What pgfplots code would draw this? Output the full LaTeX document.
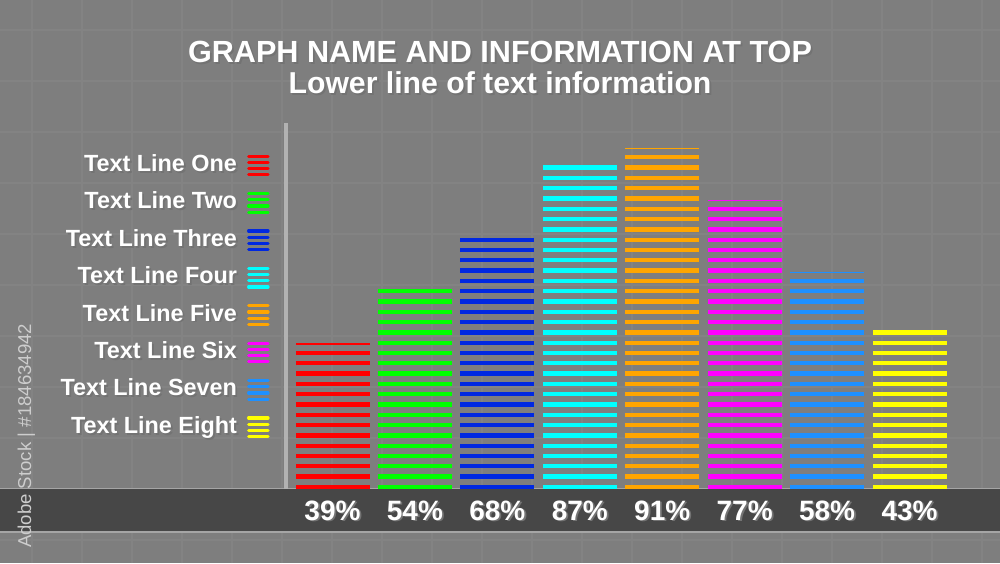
\documentclass[border=0pt]{standalone}
\usepackage{fontspec}
\setmainfont{Liberation Sans}
\usepackage{pgfplots}
\pgfplotsset{compat=1.18}

\definecolor{bgGray}{RGB}{126,126,126}
\definecolor{gridGray}{RGB}{131,131,131}
\definecolor{bandGray}{RGB}{71,71,71}
\definecolor{bandEdge}{RGB}{165,165,165}
\definecolor{axisGray}{RGB}{178,178,178}
\definecolor{stockGray}{RGB}{205,205,205}
\definecolor{barRed}{RGB}{255,0,0}
\definecolor{barGreen}{RGB}{0,255,0}
\definecolor{barBlue}{RGB}{0,40,225}
\definecolor{barCyan}{RGB}{0,255,255}
\definecolor{barOrange}{RGB}{255,165,0}
\definecolor{barMagenta}{RGB}{255,0,255}
\definecolor{barSky}{RGB}{30,144,255}
\definecolor{barYellow}{RGB}{255,255,0}

% white text with a soft dark drop shadow
\newcommand\sh[1]{\makebox[0pt][l]{\hspace{0.9pt}\raisebox{-0.9pt}{\color{black!55}#1}}#1}

\begin{document}
\begin{tikzpicture}
    % background, 1px = 0.5pt
    \fill[bgGray] (0,0) rectangle (500pt,281.5pt);
    \foreach \gx in {0,...,19}
        \draw[gridGray, line width=0.9pt] ({15.85pt+25pt*\gx},0) -- ++(0,281.5pt);
    \foreach \gy in {0,...,10}
        \draw[gridGray, line width=0.9pt] (0,{266.5pt-25.5pt*\gy}) -- ++(500pt,0);

    % dark band under the bars
    \fill[bandGray] (0,16pt) rectangle (500pt,37pt);
    \draw[bandEdge, line width=0.6pt] (0,37.2pt) -- (500pt,37.2pt);
    \draw[bandEdge, line width=1pt] (0,15.5pt) -- (500pt,15.5pt);

    % vertical axis line
    \draw[axisGray, line width=2pt] (143pt,37pt) -- (143pt,220pt);

    % titles
    \node[anchor=base, text=white, font=\fontsize{15.3}{17}\selectfont\bfseries]
        at (250pt,250.2pt) {\sh{GRAPH NAME AND INFORMATION AT TOP}};
    \node[anchor=base, text=white, font=\fontsize{15.1}{17}\selectfont\bfseries]
        at (250pt,234.5pt) {\sh{Lower line of text information}};

    % side stock text
    \node[rotate=90, anchor=base west, text=stockGray, font=\fontsize{9.3}{11}\selectfont]
        at (15.6pt,4pt) {Adobe Stock | \#184634942};

    \begin{axis}[
        at={(143.17pt,37pt)},
        anchor=south west,
        scale only axis,
        width=332.2pt,
        height=187.5pt,
        xmin=0.44, xmax=8.5,
        ymin=0, ymax=100,
        clip=false,
        axis x line*=bottom,
        axis y line=none,
        x axis line style={draw=none},
        major tick length=0pt,
        xtick={1,2,3,4,5,6,7,8},
        xticklabels={\sh{39\%},\sh{54\%},\sh{68\%},\sh{87\%},\sh{91\%},\sh{77\%},\sh{58\%},\sh{43\%}},
        xticklabel style={anchor=base, yshift=-15.5pt, text=white,
            font=\fontsize{14}{16}\selectfont\bfseries},
        every axis plot/.append style={line width=37pt, dash pattern=on 2.15pt off 3pt},
        legend image code/.code={
            \draw[solid, line width=1.6pt, line cap=round]
                (0.9pt,-4.65pt) -- (10.6pt,-4.65pt)
                (0.9pt,-1.55pt) -- (10.6pt,-1.55pt)
                (0.9pt,1.55pt) -- (10.6pt,1.55pt)
                (0.9pt,4.65pt) -- (10.6pt,4.65pt);
        },
        legend plot pos=right,
        legend cell align=right,
        legend style={draw=none, fill=none, inner sep=0pt,
            at={(-0.0246,0.896)}, anchor=north east,
            text=white, font=\fontsize{11.7}{14}\selectfont\bfseries,
            column sep=5pt, row sep=6.7pt,
            nodes={inner sep=0pt, text height=9pt, text depth=3pt}},
    ]
        \addplot[barRed]     coordinates {(1,0) (1,39)};
        \addplot[barGreen]   coordinates {(2,0) (2,54)};
        \addplot[barBlue]    coordinates {(3,0) (3,68)};
        \addplot[barCyan]    coordinates {(4,0) (4,87)};
        \addplot[barOrange]  coordinates {(5,0) (5,91)};
        \addplot[barMagenta] coordinates {(6,0) (6,77)};
        \addplot[barSky]     coordinates {(7,0) (7,58)};
        \addplot[barYellow]  coordinates {(8,0) (8,43)};
        \legend{\sh{Text Line One},\sh{Text Line Two},\sh{Text Line Three},\sh{Text Line Four},
            \sh{Text Line Five},\sh{Text Line Six},\sh{Text Line Seven},\sh{Text Line Eight}}
    \end{axis}

    \pgfresetboundingbox
    \path (0,0) rectangle (500pt,281.5pt);
\end{tikzpicture}
\end{document}
